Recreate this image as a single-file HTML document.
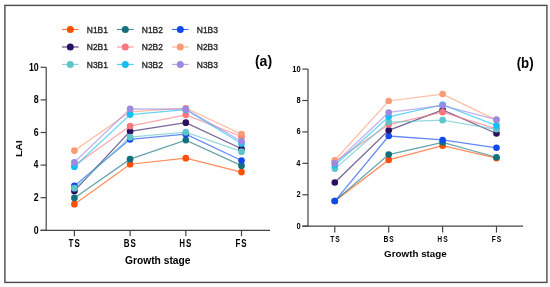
<!DOCTYPE html>
<html><head><meta charset="utf-8"><style>
html,body{margin:0;padding:0;background:#fff;}
svg{display:block;font-family:"Liberation Sans", sans-serif;}
text{will-change:transform;}
</style></head><body>
<svg width="550" height="287" viewBox="0 0 550 287">
<rect width="550" height="287" fill="#fff"/>
<rect x="4.9" y="5.4" width="542" height="277" fill="none" stroke="#4a4a4a" stroke-width="1.4"/>
<line x1="46.2" y1="67.3" x2="46.2" y2="230.3" stroke="#444" stroke-width="1.2"/>
<line x1="40.6" y1="230.3" x2="270" y2="230.3" stroke="#444" stroke-width="1.2"/>
<line x1="40.6" y1="230.30" x2="46.2" y2="230.30" stroke="#444" stroke-width="1.2"/>
<line x1="40.6" y1="197.70" x2="46.2" y2="197.70" stroke="#444" stroke-width="1.2"/>
<line x1="40.6" y1="165.10" x2="46.2" y2="165.10" stroke="#444" stroke-width="1.2"/>
<line x1="40.6" y1="132.50" x2="46.2" y2="132.50" stroke="#444" stroke-width="1.2"/>
<line x1="40.6" y1="99.90" x2="46.2" y2="99.90" stroke="#444" stroke-width="1.2"/>
<line x1="40.6" y1="67.30" x2="46.2" y2="67.30" stroke="#444" stroke-width="1.2"/>
<line x1="74.40" y1="230.3" x2="74.40" y2="236.3" stroke="#444" stroke-width="1.2"/>
<line x1="130.10" y1="230.3" x2="130.10" y2="236.3" stroke="#444" stroke-width="1.2"/>
<line x1="185.80" y1="230.3" x2="185.80" y2="236.3" stroke="#444" stroke-width="1.2"/>
<line x1="241.50" y1="230.3" x2="241.50" y2="236.3" stroke="#444" stroke-width="1.2"/>
<polyline points="74.40,204.14 130.10,164.23 185.80,158.20 241.50,172.04" fill="none" stroke="#FF4F05" stroke-width="1.25" stroke-opacity="0.65"/>
<polyline points="74.40,197.95 130.10,159.18 185.80,140.12 241.50,165.69" fill="none" stroke="#12717C" stroke-width="1.25" stroke-opacity="0.65"/>
<polyline points="74.40,185.89 130.10,139.30 185.80,134.25 241.50,160.48" fill="none" stroke="#1249EE" stroke-width="1.25" stroke-opacity="0.65"/>
<polyline points="74.40,190.94 130.10,131.32 185.80,122.69 241.50,148.75" fill="none" stroke="#2B1160" stroke-width="1.25" stroke-opacity="0.65"/>
<polyline points="74.40,165.85 130.10,126.11 185.80,114.87 241.50,136.53" fill="none" stroke="#F9777D" stroke-width="1.25" stroke-opacity="0.65"/>
<polyline points="74.40,150.54 130.10,111.93 185.80,108.02 241.50,134.09" fill="none" stroke="#FA9B76" stroke-width="1.25" stroke-opacity="0.65"/>
<polyline points="74.40,188.17 130.10,137.18 185.80,132.13 241.50,151.68" fill="none" stroke="#5EC5CB" stroke-width="1.25" stroke-opacity="0.65"/>
<polyline points="74.40,166.67 130.10,114.54 185.80,109.65 241.50,143.54" fill="none" stroke="#19BDF5" stroke-width="1.25" stroke-opacity="0.65"/>
<polyline points="74.40,162.27 130.10,108.84 185.80,109.17 241.50,141.26" fill="none" stroke="#9D89E0" stroke-width="1.25" stroke-opacity="0.65"/>
<circle cx="74.40" cy="204.14" r="3.35" fill="#FF4F05"/>
<circle cx="130.10" cy="164.23" r="3.35" fill="#FF4F05"/>
<circle cx="185.80" cy="158.20" r="3.35" fill="#FF4F05"/>
<circle cx="241.50" cy="172.04" r="3.35" fill="#FF4F05"/>
<circle cx="74.40" cy="197.95" r="3.35" fill="#12717C"/>
<circle cx="130.10" cy="159.18" r="3.35" fill="#12717C"/>
<circle cx="185.80" cy="140.12" r="3.35" fill="#12717C"/>
<circle cx="241.50" cy="165.69" r="3.35" fill="#12717C"/>
<circle cx="74.40" cy="185.89" r="3.35" fill="#1249EE"/>
<circle cx="130.10" cy="139.30" r="3.35" fill="#1249EE"/>
<circle cx="185.80" cy="134.25" r="3.35" fill="#1249EE"/>
<circle cx="241.50" cy="160.48" r="3.35" fill="#1249EE"/>
<circle cx="74.40" cy="190.94" r="3.35" fill="#2B1160"/>
<circle cx="130.10" cy="131.32" r="3.35" fill="#2B1160"/>
<circle cx="185.80" cy="122.69" r="3.35" fill="#2B1160"/>
<circle cx="241.50" cy="148.75" r="3.35" fill="#2B1160"/>
<circle cx="74.40" cy="165.85" r="3.35" fill="#F9777D"/>
<circle cx="130.10" cy="126.11" r="3.35" fill="#F9777D"/>
<circle cx="185.80" cy="114.87" r="3.35" fill="#F9777D"/>
<circle cx="241.50" cy="136.53" r="3.35" fill="#F9777D"/>
<circle cx="74.40" cy="150.54" r="3.35" fill="#FA9B76"/>
<circle cx="130.10" cy="111.93" r="3.35" fill="#FA9B76"/>
<circle cx="185.80" cy="108.02" r="3.35" fill="#FA9B76"/>
<circle cx="241.50" cy="134.09" r="3.35" fill="#FA9B76"/>
<circle cx="74.40" cy="188.17" r="3.35" fill="#5EC5CB"/>
<circle cx="130.10" cy="137.18" r="3.35" fill="#5EC5CB"/>
<circle cx="185.80" cy="132.13" r="3.35" fill="#5EC5CB"/>
<circle cx="241.50" cy="151.68" r="3.35" fill="#5EC5CB"/>
<circle cx="74.40" cy="166.67" r="3.35" fill="#19BDF5"/>
<circle cx="130.10" cy="114.54" r="3.35" fill="#19BDF5"/>
<circle cx="185.80" cy="109.65" r="3.35" fill="#19BDF5"/>
<circle cx="241.50" cy="143.54" r="3.35" fill="#19BDF5"/>
<circle cx="74.40" cy="162.27" r="3.35" fill="#9D89E0"/>
<circle cx="130.10" cy="108.84" r="3.35" fill="#9D89E0"/>
<circle cx="185.80" cy="109.17" r="3.35" fill="#9D89E0"/>
<circle cx="241.50" cy="141.26" r="3.35" fill="#9D89E0"/>
<text transform="translate(33.87,233.60) scale(0.880,1)" font-size="10.00" font-weight="bold" fill="#000">0</text>
<text transform="translate(33.86,201.00) scale(0.880,1)" font-size="10.00" font-weight="bold" fill="#000">2</text>
<text transform="translate(33.55,168.40) scale(0.880,1)" font-size="10.00" font-weight="bold" fill="#000">4</text>
<text transform="translate(33.82,135.80) scale(0.880,1)" font-size="10.00" font-weight="bold" fill="#000">6</text>
<text transform="translate(33.78,103.20) scale(0.880,1)" font-size="10.00" font-weight="bold" fill="#000">8</text>
<text transform="translate(28.97,70.60) scale(0.880,1)" font-size="10.00" font-weight="bold" fill="#000">10</text>
<text transform="translate(68.62,246.90) scale(0.780,1)" font-size="10.20" font-weight="bold" fill="#000" letter-spacing="1.3">TS</text>
<text transform="translate(123.66,246.90) scale(0.780,1)" font-size="10.20" font-weight="bold" fill="#000" letter-spacing="1.3">BS</text>
<text transform="translate(179.36,246.90) scale(0.780,1)" font-size="10.20" font-weight="bold" fill="#000" letter-spacing="1.3">HS</text>
<text transform="translate(235.50,246.90) scale(0.780,1)" font-size="10.20" font-weight="bold" fill="#000" letter-spacing="1.3">FS</text>
<text transform="translate(124.98,264.00) scale(0.954,1)" font-size="10.76" font-weight="bold" fill="#000">Growth stage</text>
<g transform="translate(22.0,148.5) rotate(-90)"><text transform="translate(-8.40,0.00) scale(1.087,1)" font-size="9.59" font-weight="bold" fill="#000">LAI</text></g>
<text transform="translate(254.90,66.00) scale(0.941,1)" font-size="14.96" font-weight="bold" fill="#000">(a)</text>
<line x1="62" y1="29.5" x2="78.6" y2="29.5" stroke="#FF4F05" stroke-width="1.1" stroke-opacity="0.8"/>
<circle cx="70.3" cy="29.5" r="3.5" fill="#FF4F05"/>
<text transform="translate(86.81,32.70) scale(0.950,1)" font-size="8.90" font-weight="normal" fill="#262626" stroke="#262626" stroke-width="0.35">N1B1</text>
<line x1="117" y1="29.5" x2="133.6" y2="29.5" stroke="#12717C" stroke-width="1.1" stroke-opacity="0.8"/>
<circle cx="125.3" cy="29.5" r="3.5" fill="#12717C"/>
<text transform="translate(141.81,32.70) scale(0.950,1)" font-size="8.90" font-weight="normal" fill="#262626" stroke="#262626" stroke-width="0.35">N1B2</text>
<line x1="172" y1="29.5" x2="188.6" y2="29.5" stroke="#1249EE" stroke-width="1.1" stroke-opacity="0.8"/>
<circle cx="180.3" cy="29.5" r="3.5" fill="#1249EE"/>
<text transform="translate(196.81,32.70) scale(0.950,1)" font-size="8.90" font-weight="normal" fill="#262626" stroke="#262626" stroke-width="0.35">N1B3</text>
<line x1="62" y1="47.0" x2="78.6" y2="47.0" stroke="#2B1160" stroke-width="1.1" stroke-opacity="0.8"/>
<circle cx="70.3" cy="47.0" r="3.5" fill="#2B1160"/>
<text transform="translate(86.81,50.20) scale(0.950,1)" font-size="8.90" font-weight="normal" fill="#262626" stroke="#262626" stroke-width="0.35">N2B1</text>
<line x1="117" y1="47.0" x2="133.6" y2="47.0" stroke="#F9777D" stroke-width="1.1" stroke-opacity="0.8"/>
<circle cx="125.3" cy="47.0" r="3.5" fill="#F9777D"/>
<text transform="translate(141.81,50.20) scale(0.950,1)" font-size="8.90" font-weight="normal" fill="#262626" stroke="#262626" stroke-width="0.35">N2B2</text>
<line x1="172" y1="47.0" x2="188.6" y2="47.0" stroke="#FA9B76" stroke-width="1.1" stroke-opacity="0.8"/>
<circle cx="180.3" cy="47.0" r="3.5" fill="#FA9B76"/>
<text transform="translate(196.81,50.20) scale(0.950,1)" font-size="8.90" font-weight="normal" fill="#262626" stroke="#262626" stroke-width="0.35">N2B3</text>
<line x1="62" y1="64.4" x2="78.6" y2="64.4" stroke="#5EC5CB" stroke-width="1.1" stroke-opacity="0.8"/>
<circle cx="70.3" cy="64.4" r="3.5" fill="#5EC5CB"/>
<text transform="translate(86.81,67.60) scale(0.950,1)" font-size="8.90" font-weight="normal" fill="#262626" stroke="#262626" stroke-width="0.35">N3B1</text>
<line x1="117" y1="64.4" x2="133.6" y2="64.4" stroke="#19BDF5" stroke-width="1.1" stroke-opacity="0.8"/>
<circle cx="125.3" cy="64.4" r="3.5" fill="#19BDF5"/>
<text transform="translate(141.81,67.60) scale(0.950,1)" font-size="8.90" font-weight="normal" fill="#262626" stroke="#262626" stroke-width="0.35">N3B2</text>
<line x1="172" y1="64.4" x2="188.6" y2="64.4" stroke="#9D89E0" stroke-width="1.1" stroke-opacity="0.8"/>
<circle cx="180.3" cy="64.4" r="3.5" fill="#9D89E0"/>
<text transform="translate(196.81,67.60) scale(0.950,1)" font-size="8.90" font-weight="normal" fill="#262626" stroke="#262626" stroke-width="0.35">N3B3</text>
<line x1="308" y1="69.1" x2="308" y2="226.2" stroke="#444" stroke-width="1.2"/>
<line x1="302.3" y1="226.2" x2="523" y2="226.2" stroke="#444" stroke-width="1.2"/>
<line x1="302.3" y1="226.20" x2="308" y2="226.20" stroke="#444" stroke-width="1.2"/>
<line x1="302.3" y1="194.78" x2="308" y2="194.78" stroke="#444" stroke-width="1.2"/>
<line x1="302.3" y1="163.36" x2="308" y2="163.36" stroke="#444" stroke-width="1.2"/>
<line x1="302.3" y1="131.94" x2="308" y2="131.94" stroke="#444" stroke-width="1.2"/>
<line x1="302.3" y1="100.52" x2="308" y2="100.52" stroke="#444" stroke-width="1.2"/>
<line x1="302.3" y1="69.10" x2="308" y2="69.10" stroke="#444" stroke-width="1.2"/>
<line x1="334.80" y1="226.2" x2="334.80" y2="232.5" stroke="#444" stroke-width="1.2"/>
<line x1="388.70" y1="226.2" x2="388.70" y2="232.5" stroke="#444" stroke-width="1.2"/>
<line x1="442.60" y1="226.2" x2="442.60" y2="232.5" stroke="#444" stroke-width="1.2"/>
<line x1="496.50" y1="226.2" x2="496.50" y2="232.5" stroke="#444" stroke-width="1.2"/>
<polyline points="334.80,201.06 388.70,159.90 442.60,145.76 496.50,158.18" fill="none" stroke="#FF4F05" stroke-width="1.25" stroke-opacity="0.65"/>
<polyline points="334.80,201.06 388.70,154.56 442.60,142.47 496.50,157.23" fill="none" stroke="#12717C" stroke-width="1.25" stroke-opacity="0.65"/>
<polyline points="334.80,201.06 388.70,136.02 442.60,139.95 496.50,147.81" fill="none" stroke="#1249EE" stroke-width="1.25" stroke-opacity="0.65"/>
<polyline points="334.80,182.53 388.70,130.37 442.60,109.95 496.50,133.51" fill="none" stroke="#2B1160" stroke-width="1.25" stroke-opacity="0.65"/>
<polyline points="334.80,161.79 388.70,124.56 442.60,112.15 496.50,128.80" fill="none" stroke="#F9777D" stroke-width="1.25" stroke-opacity="0.65"/>
<polyline points="334.80,160.22 388.70,100.99 442.60,94.08 496.50,120.16" fill="none" stroke="#FA9B76" stroke-width="1.25" stroke-opacity="0.65"/>
<polyline points="334.80,168.70 388.70,122.04 442.60,120.16 496.50,129.27" fill="none" stroke="#5EC5CB" stroke-width="1.25" stroke-opacity="0.65"/>
<polyline points="334.80,165.25 388.70,116.86 442.60,104.76 496.50,125.66" fill="none" stroke="#19BDF5" stroke-width="1.25" stroke-opacity="0.65"/>
<polyline points="334.80,163.36 388.70,112.46 442.60,105.55 496.50,119.53" fill="none" stroke="#9D89E0" stroke-width="1.25" stroke-opacity="0.65"/>
<circle cx="334.80" cy="201.06" r="3.3" fill="#FF4F05"/>
<circle cx="388.70" cy="159.90" r="3.3" fill="#FF4F05"/>
<circle cx="442.60" cy="145.76" r="3.3" fill="#FF4F05"/>
<circle cx="496.50" cy="158.18" r="3.3" fill="#FF4F05"/>
<circle cx="334.80" cy="201.06" r="3.3" fill="#12717C"/>
<circle cx="388.70" cy="154.56" r="3.3" fill="#12717C"/>
<circle cx="442.60" cy="142.47" r="3.3" fill="#12717C"/>
<circle cx="496.50" cy="157.23" r="3.3" fill="#12717C"/>
<circle cx="334.80" cy="201.06" r="3.3" fill="#1249EE"/>
<circle cx="388.70" cy="136.02" r="3.3" fill="#1249EE"/>
<circle cx="442.60" cy="139.95" r="3.3" fill="#1249EE"/>
<circle cx="496.50" cy="147.81" r="3.3" fill="#1249EE"/>
<circle cx="334.80" cy="182.53" r="3.3" fill="#2B1160"/>
<circle cx="388.70" cy="130.37" r="3.3" fill="#2B1160"/>
<circle cx="442.60" cy="109.95" r="3.3" fill="#2B1160"/>
<circle cx="496.50" cy="133.51" r="3.3" fill="#2B1160"/>
<circle cx="334.80" cy="161.79" r="3.3" fill="#F9777D"/>
<circle cx="388.70" cy="124.56" r="3.3" fill="#F9777D"/>
<circle cx="442.60" cy="112.15" r="3.3" fill="#F9777D"/>
<circle cx="496.50" cy="128.80" r="3.3" fill="#F9777D"/>
<circle cx="334.80" cy="160.22" r="3.3" fill="#FA9B76"/>
<circle cx="388.70" cy="100.99" r="3.3" fill="#FA9B76"/>
<circle cx="442.60" cy="94.08" r="3.3" fill="#FA9B76"/>
<circle cx="496.50" cy="120.16" r="3.3" fill="#FA9B76"/>
<circle cx="334.80" cy="168.70" r="3.3" fill="#5EC5CB"/>
<circle cx="388.70" cy="122.04" r="3.3" fill="#5EC5CB"/>
<circle cx="442.60" cy="120.16" r="3.3" fill="#5EC5CB"/>
<circle cx="496.50" cy="129.27" r="3.3" fill="#5EC5CB"/>
<circle cx="334.80" cy="165.25" r="3.3" fill="#19BDF5"/>
<circle cx="388.70" cy="116.86" r="3.3" fill="#19BDF5"/>
<circle cx="442.60" cy="104.76" r="3.3" fill="#19BDF5"/>
<circle cx="496.50" cy="125.66" r="3.3" fill="#19BDF5"/>
<circle cx="334.80" cy="163.36" r="3.3" fill="#9D89E0"/>
<circle cx="388.70" cy="112.46" r="3.3" fill="#9D89E0"/>
<circle cx="442.60" cy="105.55" r="3.3" fill="#9D89E0"/>
<circle cx="496.50" cy="119.53" r="3.3" fill="#9D89E0"/>
<text transform="translate(296.51,228.62) scale(0.920,1)" font-size="8.20" font-weight="bold" fill="#000">0</text>
<text transform="translate(296.51,197.20) scale(0.920,1)" font-size="8.20" font-weight="bold" fill="#000">2</text>
<text transform="translate(296.24,165.78) scale(0.920,1)" font-size="8.20" font-weight="bold" fill="#000">4</text>
<text transform="translate(296.48,134.36) scale(0.920,1)" font-size="8.20" font-weight="bold" fill="#000">6</text>
<text transform="translate(296.44,102.94) scale(0.920,1)" font-size="8.20" font-weight="bold" fill="#000">8</text>
<text transform="translate(292.32,71.52) scale(0.920,1)" font-size="8.20" font-weight="bold" fill="#000">10</text>
<text transform="translate(330.13,241.70) scale(0.760,1)" font-size="8.80" font-weight="bold" fill="#000" letter-spacing="1.3">TS</text>
<text transform="translate(383.47,241.70) scale(0.760,1)" font-size="8.80" font-weight="bold" fill="#000" letter-spacing="1.3">BS</text>
<text transform="translate(437.37,241.70) scale(0.760,1)" font-size="8.80" font-weight="bold" fill="#000" letter-spacing="1.3">HS</text>
<text transform="translate(491.64,241.70) scale(0.760,1)" font-size="8.80" font-weight="bold" fill="#000" letter-spacing="1.3">FS</text>
<text transform="translate(384.10,257.00) scale(1.039,1)" font-size="9.45" font-weight="bold" fill="#000">Growth stage</text>
<text transform="translate(516.64,67.50) scale(0.868,1)" font-size="15.27" font-weight="bold" fill="#000">(b)</text>
</svg>
</body></html>
